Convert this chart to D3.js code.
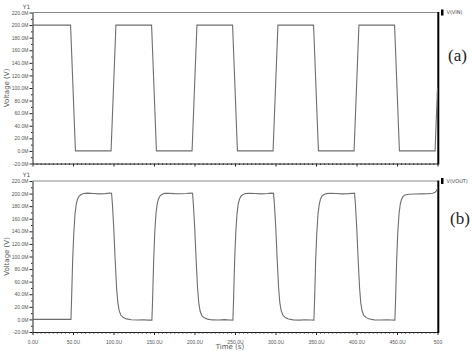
<!DOCTYPE html>
<html>
<head>
<meta charset="utf-8">
<script src="https://cdn.jsdelivr.net/npm/d3@7/dist/d3.min.js"></script>
<style>
    body { margin: 0; background: #fff; }
    svg { display: block; font-family: "DejaVu Sans", sans-serif; }
    .tick text { fill: #555; font-size: 5px; }
    .axis path, .axis line { stroke: #222; }
</style>
</head>
<body>
<div id="chart"></div>
<script>
// Tick values and labels
const xTicks = [0, 50, 100, 150, 200, 250, 300, 350, 400, 450, 500];
const xTickLabels = ['0.0U', '50.0U', '100.0U', '150.0U', '200.0U', '250.0U', '300.0U', '350.0U', '400.0U', '450.0U', '500'];
const yTicks = [220, 200, 180, 160, 140, 120, 100, 80, 60, 40, 20, 0, -20];
const yTickLabels = ['220.0M', '200.0M', '180.0M', '160.0M', '140.0M', '120.0M', '100.0M', '80.0M', '60.0M', '40.0M', '20.0M', '0.0M', '-20.0M'];

// V(VIN): [time (us), voltage (mV)]
const vinPoints = [
    [0, 200], [47, 200], [53, 0], [97, 0], [103, 200], [147, 200], [153, 0], [197, 0],
    [203, 200], [247, 200], [253, 0], [297, 0], [303, 200], [347, 200], [353, 0], [397, 0],
    [403, 200], [447, 200], [453, 0], [497, 0], [500, 100]
];

// V(VOUT): [time (us), voltage (mV)]
const voutPoints = [
    [0, 0], [47.5, 0], [48.3, 35], [49.6, 95], [51, 138], [52.5, 168], [54, 183], [55.5, 191], [57.5, 196], [60, 198.6],
    [63, 200.1], [68, 200.7], [75, 200.2], [82, 199.5], [90, 200], [95, 200.9], [97.6, 200.6],
    [98.6, 184], [100.2, 148], [102, 96], [103.8, 50], [105.3, 27], [107, 14], [109, 7], [112, 3], [116, 0.8],
    [122, -0.6], [130, -1], [137, -0.5], [143, -1.1], [147.4, -1.2],
    [148.3, 33], [149.6, 94], [151, 140], [152.5, 169], [154, 184], [155.5, 191.5], [157.5, 196.5], [160, 198.8],
    [163, 200.3], [168, 200.6], [175, 200], [182, 199.7], [190, 200.2], [195, 200.7], [197.6, 200.5],
    [198.6, 183], [200.2, 147], [202, 95], [203.8, 49], [205.3, 26], [207, 13], [209, 6], [212, 2.5], [216, 0.5],
    [222, -0.8], [230, -1], [237, -0.4], [243, -1], [247.4, -1.1],
    [248.3, 34], [249.6, 96], [251, 139], [252.5, 168], [254, 183.5], [255.5, 191], [257.5, 196.2], [260, 198.7],
    [263, 200.2], [268, 200.5], [275, 200.1], [282, 199.6], [290, 200.1], [295, 200.8], [297.6, 200.4],
    [298.6, 184], [300.2, 149], [302, 97], [303.8, 51], [305.3, 27], [307, 14], [309, 7], [312, 3], [316, 0.7],
    [322, -0.7], [330, -1.1], [337, -0.5], [343, -1], [347.4, -1.2],
    [348.3, 33], [349.6, 95], [351, 138], [352.5, 168], [354, 183], [355.5, 191], [357.5, 196.3], [360, 198.5],
    [363, 200], [368, 200.6], [375, 200.2], [382, 199.6], [390, 200], [395, 200.6], [397.6, 200.4],
    [398.6, 184], [400.2, 148], [402, 96], [403.8, 50], [405.3, 26], [407, 13], [409, 6.5], [412, 2.8], [416, 0.6],
    [422, -0.7], [430, -1], [437, -0.5], [443, -1], [447.4, -1.1],
    [448.3, 34], [449.6, 95], [451, 139], [452.5, 168], [454, 183], [455.5, 190.5], [457.5, 195.5], [460, 197.8],
    [465, 199], [472, 199.3], [480, 199.5], [488, 199.8], [494, 200.5], [497, 202], [499, 205], [500, 208]
];

const width = 474, height = 351;
const left = 32.5, right = 437.5;

const panels = [
    { top: 12.5, bottom: 163.5, points: vinPoints, name: 'V(VIN)', tag: '(a)', tagX: 457.5, tagY: 61, showX: false },
    { top: 181, bottom: 332, points: voutPoints, name: 'V(VOUT)', tag: '(b)', tagX: 460, tagY: 224, showX: true }
];

const svg = d3.select('#chart')
    .append('svg')
    .attr('width', width)
    .attr('height', height);

const x = d3.scaleLinear().domain([0, 500]).range([left, right]);

panels.forEach(p => {
    const y = d3.scaleLinear().domain([-20, 220]).range([p.bottom, p.top]);

    // top border
    svg.append('line')
        .attr('x1', left).attr('x2', right)
        .attr('y1', y(220)).attr('y2', y(220))
        .attr('stroke', '#8a8a8a').attr('stroke-width', 1);

    // minor y ticks
    svg.append('g')
        .attr('class', 'axis')
        .attr('transform', `translate(${left},0)`)
        .call(d3.axisLeft(y).tickValues(d3.range(-10, 220, 20)).tickSize(1.5).tickFormat(''))
        .call(g => g.select('.domain').remove());

    // y axis
    svg.append('g')
        .attr('class', 'axis')
        .attr('transform', `translate(${left},0)`)
        .call(d3.axisLeft(y)
            .tickValues(yTicks)
            .tickSize(3)
            .tickSizeOuter(0)
            .tickPadding(1)
            .tickFormat((d, i) => yTickLabels[i]));

    // minor x ticks
    svg.append('g')
        .attr('class', 'axis')
        .attr('transform', `translate(0,${p.bottom})`)
        .call(d3.axisBottom(x).tickValues(d3.range(5, 500, 5).filter(d => d % 50 !== 0)).tickSize(1.5).tickFormat(''))
        .call(g => g.select('.domain').remove());

    // x axis
    const xAxis = svg.append('g')
        .attr('class', 'axis')
        .attr('transform', `translate(0,${p.bottom})`)
        .call(d3.axisBottom(x)
            .tickValues(xTicks)
            .tickSize(3)
            .tickSizeOuter(0)
            .tickPadding(5)
            .tickFormat((d, i) => p.showX ? xTickLabels[i] : ''));

    // right border
    svg.append('line')
        .attr('x1', right + 0.8).attr('x2', right + 0.8)
        .attr('y1', p.top - 0.5).attr('y2', p.bottom + 1)
        .attr('stroke', '#000').attr('stroke-width', 2);

    // waveform
    const line = d3.line()
        .x(d => x(d[0]))
        .y(d => y(d[1]));

    svg.append('path')
        .datum(p.points)
        .attr('d', line)
        .attr('fill', 'none')
        .attr('stroke', '#6e6e6e')
        .attr('stroke-width', 1.1);

    // Y1 label
    svg.append('text')
        .attr('x', 26.5).attr('y', p.top - 4)
        .attr('text-anchor', 'middle')
        .attr('font-size', 6)
        .attr('fill', '#555')
        .text('Y1');

    // Voltage label
    svg.append('text')
        .attr('transform', `translate(8.5,${(p.top + p.bottom) / 2}) rotate(-90)`)
        .attr('text-anchor', 'middle')
        .attr('font-size', 7)
        .attr('fill', '#555')
        .text('Voltage (V)');

    // legend
    svg.append('rect')
        .attr('x', 441).attr('y', p.top - 3)
        .attr('width', 2.5).attr('height', 6)
        .attr('fill', '#000');
    svg.append('text')
        .attr('x', 446.5).attr('y', p.top + 1.8)
        .attr('font-size', 5)
        .attr('fill', '#444')
        .text(p.name);

    // panel tag
    svg.append('text')
        .attr('x', p.tagX).attr('y', p.tagY)
        .attr('text-anchor', 'middle')
        .attr('font-family', '"Liberation Serif", serif')
        .attr('font-size', 17)
        .attr('fill', '#222')
        .text(p.tag);
});

// x axis title
svg.append('text')
    .attr('x', 230).attr('y', 349)
    .attr('text-anchor', 'middle')
    .attr('font-size', 7)
    .attr('fill', '#555')
    .text('Time (s)');
</script>
</body>
</html>
